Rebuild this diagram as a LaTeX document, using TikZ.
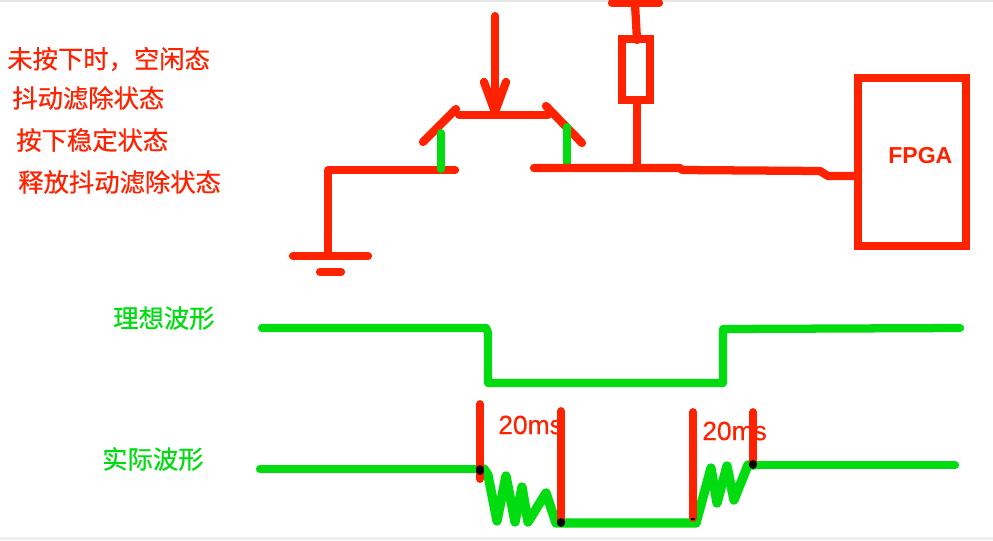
\documentclass[tikz,border=0pt]{standalone}
\usepackage{fontspec}
\setmainfont{Liberation Sans}
\newfontfamily\cjk[FakeBold=0.6]{Noto Sans CJK SC}
\newfontfamily\timefont[FakeBold=0.4]{Liberation Sans}
\definecolor{wred}{HTML}{FF2200}
\definecolor{wgreen}{HTML}{00DC10}
\tikzset{
  rw/.style={draw=wred,line width=6.2pt,line cap=round,line join=round},
  gw/.style={draw=wgreen,line width=6.2pt,line cap=round,line join=round},
  gz/.style={draw=wgreen,line width=7pt,line cap=round,line join=round},
  rthin/.style={draw=wred,line width=5.8pt,line cap=round},
  gthin/.style={draw=wgreen,line width=6pt,line cap=round},
  dot/.style={draw=black,line width=5.8pt,line cap=round},
  cn/.style={font=\cjk\fontsize{19pt}{19pt}\selectfont,anchor=west,inner sep=0pt},
  latin/.style={font=\bfseries\fontsize{17.3pt}{17.3pt}\selectfont,text=wred,anchor=west,inner sep=0pt},
  timing/.style={font=\timefont\fontsize{19.8pt}{19.8pt}\selectfont,text=wred,anchor=west,inner sep=0pt},
}
\begin{document}
\begin{tikzpicture}[x=0.75pt,y=-0.75pt]
\useasboundingbox (0,0) rectangle (993,540);
\fill[white] (0,0) rectangle (993,540);
\fill[black!10] (0,0) rectangle (993,1.5);
\fill[black!6] (0,537) rectangle (993,540);
% labels
\node[cn,text=wred] (l1) at (7,59) {未按下时，空闲态};
\node[cn,text=wred] (l2) at (12,98) {抖动滤除状态};
\node[cn,text=wred] (l3) at (16,140) {按下稳定状态};
\node[cn,text=wred] (l4) at (18,182) {释放抖动滤除状态};
\node[cn,text=wgreen] (l5) at (113,318) {理想波形};
\node[cn,text=wgreen] (l6) at (102,459) {实际波形};
% ground and left contact
\draw[rw] (293,256) -- (368,256);
\draw[rw] (320,272) -- (341,272);
\draw[rw] (328,256) -- (328,170) -- (455,170);
% switch
\draw[rw] (423,142) -- (456,109);
\draw[rw] (459,115) -- (548,115);
\draw[rw] (546,106) -- (582,143);
\draw[gthin] (441,133) -- (441,169);
\draw[gthin] (567,127) -- (567,165);
% arrow
\draw[rw] (495,16) -- (495,112);
\draw[rw] (484,82) -- (495,112) -- (506,82);
\fill[wred] (488,90) -- (502,90) -- (495,112) -- cycle;
% right wire
\draw[rw] (534,168) -- (680,168) -- (682,170) -- (820,171) -- (828,176) -- (857,176);
\draw[rw] (637,168) -- (637,100);
\draw[rw] (637,40) -- (635,4);
\draw[rw] (612,3) -- (659,3);
\draw[draw=wred,line width=5.5pt] (622,39) rectangle (650,100);
% FPGA
\draw[draw=wred,line width=5.5pt] (858,78) rectangle (966,246);
\node[latin] (fpga) at (888,156) {FPGA};
% ideal waveform
\draw[gw] (262,328) -- (486,328) -- (488,333) -- (488,383) -- (723,383) -- (723,329) -- (960,328);
% actual waveform
\draw[gw] (260,469) -- (484,469);
\draw[gz] (484,469) -- (488,475) -- (497,521) -- (506,476) -- (515,522) -- (522,487) -- (528,522) -- (546,493) -- (556,523) -- (696,523) -- (711,468) -- (717,503) -- (727,466) -- (734,500) -- (748,465) -- (755,465);
\draw[gw] (755,465) -- (955,465);
% markers
\draw[rthin] (480,404) -- (480,479);
\draw[rthin] (561,411) -- (561,522);
\draw[rthin] (693,412) -- (693,518);
\draw[rthin] (753,412) -- (753,464);
\draw[dot] (480,469) -- (480,471);
\draw[dot] (561,522) -- (561,523);
\draw[dot] (753,464) -- (753,465);
\draw[draw=black,line width=1.5pt] (691,519) -- (695,519);
% timing labels
\node[timing] (t1) at (498,425) {20ms};
\node[timing] (t2) at (702,431) {20ms};
\end{tikzpicture}
\end{document}
